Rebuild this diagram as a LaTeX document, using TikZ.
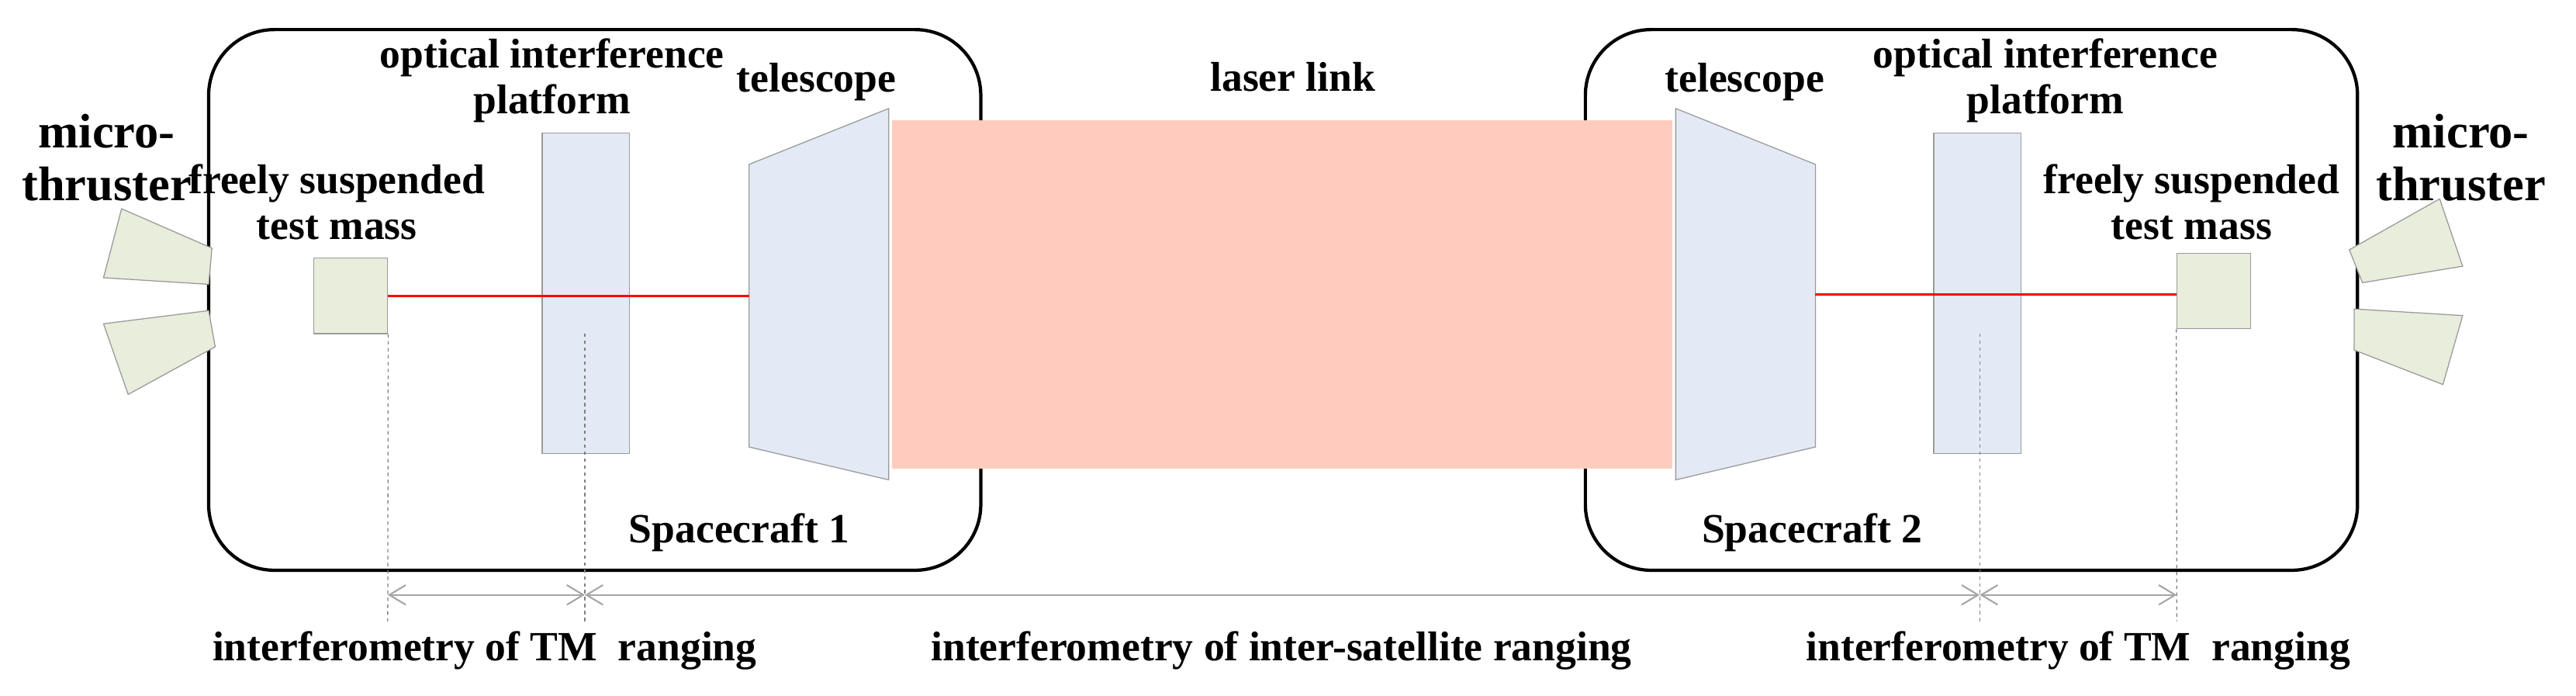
\documentclass[tikz,border=0pt]{standalone}
\usepackage{fontspec}
\setmainfont{Liberation Serif}
\usetikzlibrary{arrows.meta}
\definecolor{tmfill}{HTML}{E8EDDC}
\definecolor{optfill}{HTML}{E3EAF6}
\definecolor{laser}{HTML}{FFCBBE}
\definecolor{edge}{HTML}{9A9A9A}
\tikzset{
 lbl/.style={font=\fontsize{36}{40}\selectfont\bfseries, align=center, inner sep=0pt},
 biglbl/.style={font=\fontsize{42}{46}\selectfont\bfseries, align=center, inner sep=0pt},
 craft/.style={draw=black, line width=1mm, rounded corners=20mm},
 greenpart/.style={fill=tmfill, draw=edge, line width=0.3mm},
 bluepart/.style={fill=optfill, draw=edge, line width=0.3mm},
 guide/.style={draw=gray, dashed, line width=0.3mm},
 dim/.style={draw=gray!70, line width=0.5mm, {Straight Barb[length=5mm,width=6mm]}-{Straight Barb[length=5mm,width=6mm]}},
 beam/.style={draw=red, line width=0.7mm}
}
\begin{document}
\begin{tikzpicture}[x=0.5mm,y=-0.5mm]
\useasboundingbox (0,0) rectangle (1568,423.5);
% spacecraft
\draw[craft] (127,18) rectangle (597,347);
\draw[craft] (965,18) rectangle (1435,347);
% laser link
\fill[laser] (543,73) rectangle (1018,285);
% telescopes
\draw[bluepart] (456,100) -- (541,66) -- (541,292) -- (456,272) -- cycle;
\draw[bluepart] (1105,100) -- (1020,66) -- (1020,292) -- (1105,272) -- cycle;
\coordinate (tel1) at (456,180);
\coordinate (tel2) at (1105,179);
% platforms
\node[bluepart, minimum width=26.5mm, minimum height=97.5mm, inner sep=0pt] (pl1) at (356.5,178.5) {};
\node[bluepart, minimum width=26.5mm, minimum height=97.5mm, inner sep=0pt] (pl2) at (1203.5,178.5) {};
% test masses
\node[greenpart, minimum width=22.5mm, minimum height=23mm, inner sep=0pt] (tm1) at (213.5,180) {};
\node[greenpart, minimum width=22.5mm, minimum height=23mm, inner sep=0pt] (tm2) at (1347.5,177) {};
% beams
\draw[beam] (tm1.east) -- (tel1);
\draw[beam] (tel2) -- (tel2 -| tm2.west);
% thrusters
\draw[greenpart] (74,127) -- (129,151) -- (127,173) -- (63,169) -- cycle;
\draw[greenpart] (63,197) -- (127,189) -- (131,211) -- (78,240) -- cycle;
\draw[greenpart] (1485,121) -- (1499,162) -- (1438,172) -- (1430,152) -- cycle;
\draw[greenpart] (1433,188) -- (1499,192) -- (1487,234) -- (1433,213) -- cycle;
% guides
\coordinate (g1) at (236,378);
\coordinate (g2) at (356,378);
\coordinate (g3) at (1205,378);
\coordinate (g4) at (1325,378);
\coordinate (d1) at (236,362);
\coordinate (d2) at (356,362);
\coordinate (d3) at (1205,362);
\coordinate (d4) at (1325,362);
\draw[guide] (tm1.south east) -- (g1);
\draw[guide] (356,203) -- (g2);
\draw[guide] (1205,203) -- (g3);
\draw[guide] (tm2.south west) -- (g4);
\draw[dim] (d1) -- (d2);
\draw[dim] (d2) -- (d3);
\draw[dim] (d3) -- (d4);
% labels
\node[biglbl] (lmt) at (65,96) {micro-\\thruster};
\node[biglbl] (rmt) at (1498,96) {micro-\\thruster};
\node[lbl] (lfs) at (205,123) {freely suspended\\test mass};
\node[lbl] (rfs) at (1334,123) {freely suspended\\test mass};
\node[lbl] (loi) at (336,49) {optical interference\\platform};
\node[lbl] (roi) at (1245,49) {optical interference\\platform};
\node[lbl] (lts) at (497,50) {telescope};
\node[lbl] (rts) at (1062,50) {telescope};
\node[lbl] (ll) at (787,47) {laser link};
\node[lbl] (s1) at (450,324) {Spacecraft 1};
\node[lbl] (s2) at (1103,324) {Spacecraft 2};
\node[lbl] (b1) at (295,396) {interferometry of TM\ \ ranging};
\node[lbl] (b2) at (780,396) {interferometry of inter-satellite ranging};
\node[lbl] (b3) at (1265,396) {interferometry of TM\ \ ranging};
\end{tikzpicture}
\end{document}
